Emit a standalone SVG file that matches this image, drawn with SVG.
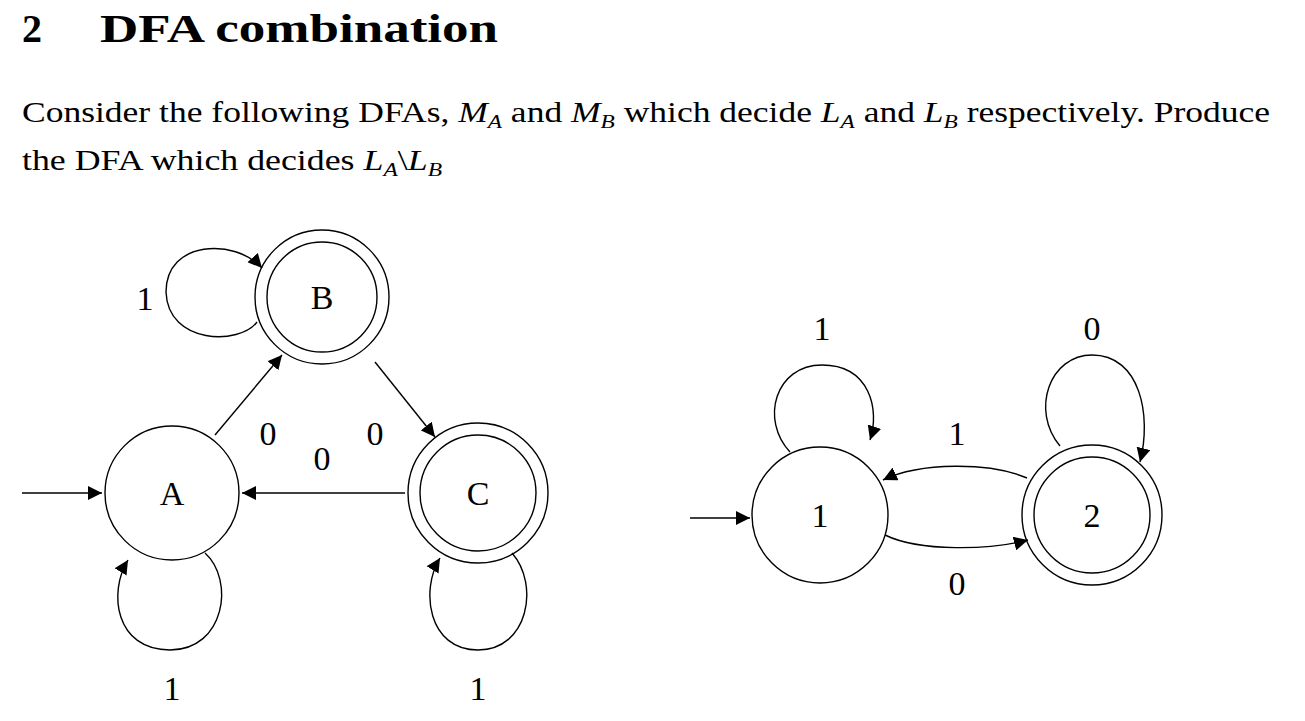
<svg xmlns="http://www.w3.org/2000/svg" width="1305" height="721" viewBox="0 0 1305 721">
<style>
.t{font-family:"Liberation Serif",serif;fill:#000}
.s{fill:none;stroke:#000;stroke-width:1.4}
.e{fill:none;stroke:#000;stroke-width:1.4;marker-end:url(#ah)}
.l{font-family:"Liberation Serif",serif;font-size:34px;text-anchor:middle}
</style>
<defs><marker id="ah" viewBox="0 0 10 10" refX="10" refY="5" markerWidth="14" markerHeight="14" markerUnits="userSpaceOnUse" orient="auto"><path d="M0,0L10,5L0,10z"/></marker></defs>
<rect width="1305" height="721" fill="#fff"/>
<text class="t" x="22" y="42" font-size="40" font-weight="bold">2</text>
<text class="t" x="100" y="42" font-size="40" font-weight="bold" textLength="398" lengthAdjust="spacingAndGlyphs">DFA combination</text>
<text class="t" x="22" y="122" font-size="29" textLength="1248" lengthAdjust="spacingAndGlyphs">Consider the following DFAs, <tspan font-style="italic">M</tspan><tspan font-style="italic" font-size="19" dy="6">A</tspan><tspan dy="-6"> and </tspan><tspan font-style="italic">M</tspan><tspan font-style="italic" font-size="19" dy="6">B</tspan><tspan dy="-6"> which decide </tspan><tspan font-style="italic">L</tspan><tspan font-style="italic" font-size="19" dy="6">A</tspan><tspan dy="-6"> and </tspan><tspan font-style="italic">L</tspan><tspan font-style="italic" font-size="19" dy="6">B</tspan><tspan dy="-6"> respectively.  Produce</tspan></text>
<text class="t" x="22" y="170" font-size="29" textLength="420" lengthAdjust="spacingAndGlyphs">the DFA which decides <tspan font-style="italic">L</tspan><tspan font-style="italic" font-size="19" dy="6">A</tspan><tspan dy="-6">\</tspan><tspan font-style="italic">L</tspan><tspan font-style="italic" font-size="19" dy="6">B</tspan></text>
<g id="connectors">
<path class="e" d="M22,493H102"/>
<path class="e" d="M215,435L282,355"/>
<path class="e" d="M375,362L435,437"/>
<path class="e" d="M405,493H242"/>
<path class="e" d="M257,322C240,345 168,345 166,292C166,240 235,238 262,268"/>
<path class="e" d="M205,553C235,580 225,650 170,650C115,650 108,592 128,560"/>
<path class="e" d="M512,553C540,585 528,650 478,650C428,650 420,590 440,558"/>
<path class="e" d="M690,518H750"/>
<path class="e" d="M790,452C760,420 775,365 822,365C870,365 880,410 870,440"/>
<path class="e" d="M1060,446C1030,410 1050,355 1092,355C1140,355 1152,415 1140,462"/>
<path class="e" d="M885,535C920,552 990,550 1028,540"/>
<path class="e" d="M1027,478C990,462 920,462 883,480"/>
</g>
<g class="l">
<text x="145" y="310">1</text><text x="268" y="445">0</text><text x="375" y="445">0</text><text x="322" y="470">0</text>
<text x="172" y="700">1</text><text x="478" y="700">1</text>
<text x="822" y="340">1</text><text x="1092" y="340">0</text><text x="957" y="445">1</text><text x="957" y="595">0</text>
</g>
<g id="A"><circle class="s" cx="172" cy="493" r="67"/><text class="l" x="172" y="505">A</text></g>
<g id="B"><circle class="s" cx="322" cy="297" r="67"/><circle class="s" cx="322" cy="297" r="55"/><text class="l" x="322" y="309">B</text></g>
<g id="C"><circle class="s" cx="478" cy="493" r="70"/><circle class="s" cx="478" cy="493" r="58"/><text class="l" x="478" y="505">C</text></g>
<g id="n1"><circle class="s" cx="820" cy="515" r="68"/><text class="l" x="820" y="527">1</text></g>
<g id="n2"><circle class="s" cx="1092" cy="515" r="70"/><circle class="s" cx="1092" cy="515" r="58"/><text class="l" x="1092" y="527">2</text></g>
</svg>
